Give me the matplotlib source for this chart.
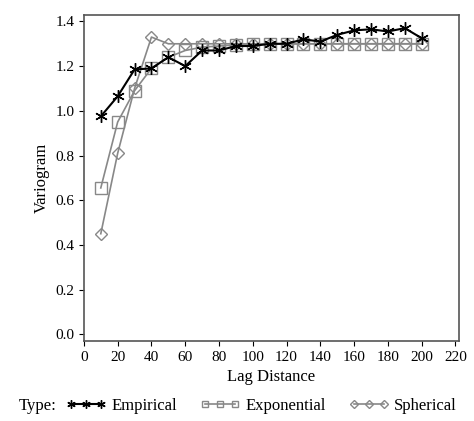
import matplotlib
matplotlib.use("Agg")
import matplotlib.pyplot as plt
from matplotlib.lines import Line2D

plt.rcParams['font.family'] = ['Liberation Serif', 'DejaVu Serif']

lag = [10,20,30,40,50,60,70,80,90,100,110,120,130,140,150,160,170,180,190,200]
empirical = [0.975,1.065,1.185,1.19,1.24,1.20,1.27,1.27,1.29,1.29,1.30,1.30,1.32,1.31,1.34,1.36,1.365,1.355,1.37,1.325]
exponential = [0.655,0.95,1.09,1.19,1.24,1.27,1.285,1.29,1.295,1.297,1.298,1.299,1.30,1.30,1.30,1.30,1.30,1.30,1.30,1.30]
spherical = [0.45,0.81,1.10,1.33,1.30,1.30,1.30,1.30,1.30,1.30,1.30,1.30,1.30,1.30,1.30,1.30,1.30,1.30,1.30,1.30]

fig = plt.figure(figsize=(4.74,4.21), dpi=100)
ax = fig.add_axes([0.177, 0.19, 0.791, 0.775])
g = '#888888'
ax.plot(lag, exponential, color=g, lw=1.2, marker='s', ms=8, mfc='none', mec=g)
ax.plot(lag, spherical, color=g, lw=1.2, marker='D', ms=6, mfc='none', mec=g)
ax.plot(lag, empirical, color='black', lw=1.5, marker=(6,2,0), ms=9, mec='black')
ax.set_xlim(0, 222)
ax.set_ylim(-0.03, 1.43)
ax.set_xticks(range(0,221,20))
ax.set_yticks([0,0.2,0.4,0.6,0.8,1.0,1.2,1.4])
ax.set_yticklabels([f"{v:.1f}" for v in [0,0.2,0.4,0.6,0.8,1.0,1.2,1.4]])
ax.tick_params(labelsize=11)
for s in ax.spines.values():
    s.set_color('#555555'); s.set_linewidth(1.2)
ax.set_xlabel('Lag Distance', fontsize=12)
ax.set_ylabel('Variogram', fontsize=12)

handles = [Line2D([], [], color='black', lw=1.5, marker=(6,2,0), ms=6),
           Line2D([], [], color=g, lw=1.2, marker='s', ms=5, mfc='none'),
           Line2D([], [], color=g, lw=1.2, marker='D', ms=4, mfc='none')]
fig.text(0.04, 0.035, 'Type:', fontsize=12, va='center')
fig.legend(handles, ['Empirical','Exponential','Spherical'], loc='center left',
           bbox_to_anchor=(0.14, 0.035), ncol=3, frameon=False, fontsize=12,
           handlelength=2.4, numpoints=3, columnspacing=1.4, handletextpad=0.3,
           borderaxespad=0, borderpad=0)
fig.savefig('out.png', dpi=100)
